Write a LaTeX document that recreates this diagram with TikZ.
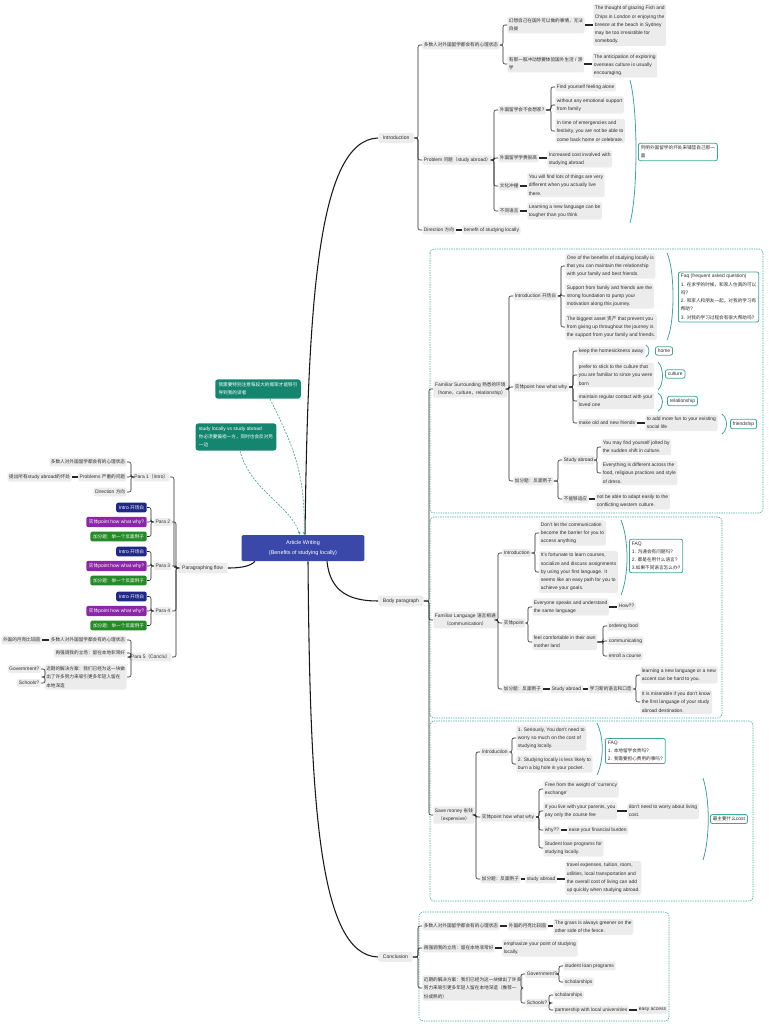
\documentclass[tikz,border=0pt]{standalone}
\usepackage{fontspec}
\setmainfont{Liberation Sans}
\newfontfamily\zhfont{Noto Sans CJK SC}[Scale=0.94]
% switch to the CJK family for ideographs and full-width punctuation
\XeTeXinterchartokenstate=1
\newXeTeXintercharclass\zhclass
\count255="3000
\loop \XeTeXcharclass\count255=\zhclass \ifnum\count255<"303F \advance\count255 by 1 \repeat
\count255="4E00
\loop \XeTeXcharclass\count255=\zhclass \ifnum\count255<"9FFF \advance\count255 by 1 \repeat
\count255="FF00
\loop \XeTeXcharclass\count255=\zhclass \ifnum\count255<"FFEF \advance\count255 by 1 \repeat
\XeTeXinterchartoks 0 \zhclass = {\zhfont}
\XeTeXinterchartoks 4095 \zhclass = {\zhfont}
\XeTeXinterchartoks \zhclass 0 = {\normalfont}
\XeTeXinterchartoks \zhclass 4095 = {\normalfont}
\usetikzlibrary{arrows.meta,calc}
\definecolor{nodegray}{RGB}{236,236,236}
\definecolor{txtgray}{RGB}{45,45,45}
\definecolor{tealline}{RGB}{62,168,152}
\definecolor{tealfill}{RGB}{20,134,112}
\definecolor{rootblue}{RGB}{58,72,170}
\definecolor{navyfill}{RGB}{32,40,135}
\definecolor{purplefill}{RGB}{140,38,168}
\definecolor{greenfill}{RGB}{38,138,40}
\tikzset{
  topic/.style    = {fill=nodegray,rounded corners=1.2pt,inner xsep=1.2pt,inner ysep=1.6pt,
                     align=left,font=\fontsize{3.7}{6.2}\selectfont,text=txtgray},
  branch/.style   = {topic,inner xsep=3.5pt,inner ysep=2.2pt,font=\fontsize{3.8}{6.2}\selectfont},
  tagbox/.style   = {draw=tealline,line width=0.6pt,fill=white,rounded corners=1.5pt,
                     inner sep=1.8pt,align=left,font=\fontsize{3.7}{6.2}\selectfont,text=txtgray},
  notebox/.style  = {fill=tealfill,rounded corners=2pt,inner sep=2.5pt,align=left,
                     text=white,font=\fontsize{3.7}{6.2}\selectfont},
  rootbox/.style  = {fill=rootblue,rounded corners=1pt,text=white,align=center,
                     minimum width=92pt,minimum height=19.5pt,font=\fontsize{4.1}{7}\selectfont},
  stepbox/.style  = {rounded corners=1.5pt,inner xsep=2pt,inner ysep=2pt,text=white,
                     font=\fontsize{3.7}{6.2}\selectfont},
  link/.style     = {draw=black!85,line width=0.45pt,rounded corners=1.5pt},
  solo/.style     = {draw=black!85,line width=0.9pt},
  mainlink/.style = {draw=black!90,line width=0.8pt},
  brace/.style    = {draw=tealline,line width=0.6pt},
  section/.style  = {draw=tealline,dash pattern=on 1pt off 0.8pt,line width=0.5pt,
                     rounded corners=3pt},
  notelink/.style = {draw=tealline,dash pattern=on 1.5pt off 1pt,line width=0.5pt,
                     -{Stealth[length=2.5pt,width=2pt]}},
}
\begin{document}
\begin{tikzpicture}[x=0.75pt,y=-0.75pt]
  \useasboundingbox (0,0) rectangle (768,1024);

  % dashed frames round the body sections and the conclusion
  \draw[section] (430,249) rectangle (763,513);
  \draw[section] (430,517) rectangle (722,718);
  \draw[section] (430,721) rectangle (753,901);
  \draw[section] (419,912) rectangle (669,1021);

  \node[rootbox] (root) at (303,548) {Article Writing\\(Benefits of studying locally)};
  \node[branch,anchor=west] (intro) at (378,138) {Introduction};
  \node[branch,anchor=west] (body)  at (378,601) {Body paragraph};
  \node[branch,anchor=west] (concl) at (378,957) {Conclusion};
  \node[branch,anchor=east] (flow)  at (228,568) {Paragraphing flow};

  \draw[mainlink] ($(root.north)+(2,0)$) .. controls (308,300) and (318,140) .. (intro.west);
  \draw[mainlink] ($(root.south)+(5,0)$) .. controls (310,800) and (318,955) .. (concl.west);
  \draw[mainlink] ($(root.south)+(24,0)$) .. controls (330,592) and (350,601) .. (body.west);
  \draw[mainlink] ($(root.south)+(-48,0)$) .. controls (250,567) and (238,568) .. (flow.east);

  % notes on the left
  \node[notebox] (note1) at (258,389) {我需要特别注意每段大的框架才能够引\\导到我的读者};
  \node[notebox] (note2) at (236,437) {study locally vs study abroad\\你必须要偏袒一方，同时也会反对另\\一边};
  \draw[notelink] ($(note1.south)+(12,0)$) .. controls (290,440) and (306,470) .. ($(root.north)+(1,0)$);
  \draw[notelink] ($(note2.south)+(4,0)$) .. controls (250,490) and (290,505) .. ($(root.north)+(-3,0)$);

  % Introduction
  \node[topic,anchor=west] (im)   at (422,45)  {多数人对外国留学都会有的心理状态};
  \node[topic,anchor=west] (im1)  at (507,25)  {幻想自己在国外可以做的事情，无法\\自拔};
  \node[topic,anchor=west] (im1a) at (593,25)  {The thought of grazing Fish and\\Chips in London or enjoying the\\breeze at the beach in Sydney\\may be too irresistible for\\somebody.};
  \node[topic,anchor=west] (im2)  at (507,64)  {有那一股冲动想要体验国外生活 / 游\\学};
  \node[topic,anchor=west] (im2a) at (592,65)  {The anticipation of exploring\\overseas culture is usually\\encouraging.};
  \node[topic,anchor=west] (ip)   at (422,160) {Problem 问题（study abroad）};
  \node[topic,anchor=west] (ip1)  at (498,110) {外国留学会不会想家?};
  \node[topic,anchor=west] (ip1a) at (555,87)  {Find yourself feeling alone};
  \node[topic,anchor=west] (ip1b) at (555,105) {without any emotional support\\from family};
  \node[topic,anchor=west] (ip1c) at (555,131) {In time of emergencies and\\festivity, you are not be able to\\come back home or celebrate.};
  \node[topic,anchor=west] (ip2)  at (498,158) {外国留学学费很高};
  \node[topic,anchor=west] (ip2a) at (547,159) {Increased cost involved with\\studying abroad};
  \node[topic,anchor=west] (ip3)  at (498,186) {文化冲撞};
  \node[topic,anchor=west] (ip3a) at (527,185) {You will find lots of things are very\\different when you actually live\\there.};
  \node[topic,anchor=west] (ip4)  at (498,211) {不同语言};
  \node[topic,anchor=west] (ip4a) at (527,211) {Learning a new language can be\\tougher than you think};
  \node[topic,anchor=west] (id)   at (422,230) {Direction 方向};
  \node[topic,anchor=west] (ida)  at (462,230) {benefit of studying locally};
  \draw[brace] (630,80) .. controls (638,110) and (638,193) .. (630,223);
  \node[tagbox,anchor=west] (ipnote) at (638,152) {列明外国留学的坏处来铺垫自己那一\\面};

  \foreach \c in {im,ip,id} \draw[link] (intro.east) -- ([xshift=-3pt]intro.east -| \c.west) |- (\c.west);
  \foreach \c in {im1,im2} \draw[link] (im.east) -- ([xshift=-3pt]im.east -| \c.west) |- (\c.west);
  \foreach \c in {ip1,ip2,ip3,ip4} \draw[link] (ip.east) -- ([xshift=-3pt]ip.east -| \c.west) |- (\c.west);
  \foreach \c in {ip1a,ip1b,ip1c} \draw[link] (ip1.east) -- ([xshift=-3pt]ip1.east -| \c.west) |- (\c.west);
  \foreach \a/\b in {im1/im1a,im2/im2a,ip2/ip2a,ip3/ip3a,ip4/ip4a,id/ida}
    \draw[solo] (\a.east) -- (\a.east -| \b.west);

  % Body paragraph: familiar surrounding
  \node[topic,anchor=west,align=center] (s1) at (433,389) {Familiar Surrounding 熟悉的环境\\（home，culture，relationship）};
  \node[topic,anchor=west] (s1i)   at (513,296) {Introduction 开场白};
  \node[topic,anchor=west] (s1i1)  at (565,266) {One of the benefits of studying locally is\\that you can maintain the relationship\\with your family and best friends.};
  \node[topic,anchor=west] (s1i2)  at (565,296) {Support from family and friends are the\\strong foundation to pump your\\motivation along this journey.};
  \node[topic,anchor=west] (s1i3)  at (565,327) {The biggest asset 资产 that prevent you\\from giving up throughout the journey is\\the support from your family and friends.};
  \draw[brace] (667,253) .. controls (675,270) and (675,323) .. (667,340);
  \node[tagbox,anchor=west] (faq1) at (678,297) {Faq (frequent asked question)\\1. 在求学的时候，和家人住真的可以\\吗?\\2. 和家人和朋友一起，对我的学习有\\帮助?\\3. 对我的学习过程会有很大帮助吗?};
  \node[topic,anchor=west] (s1p)   at (513,387) {实体point how what why};
  \node[topic,anchor=west] (s1p1)  at (577,351) {keep the homesickness away};
  \node[topic,anchor=west] (s1p2)  at (577,375) {prefer to stick to the culture that\\you are familiar to since you were\\born};
  \node[topic,anchor=west] (s1p3)  at (577,401) {maintain regular contact with your\\loved one};
  \node[topic,anchor=west] (s1p4)  at (577,423) {make old and new friends};
  \node[topic,anchor=west] (s1p4a) at (645,423) {to add more fun to your existing\\social life};
  \draw[brace] (646,345) .. controls (650,348) and (650,354) .. (646,357);
  \node[tagbox,anchor=west] (home) at (655,351) {home};
  \draw[brace] (658,362) .. controls (664,368) and (664,384) .. (658,390);
  \node[tagbox,anchor=west] (cult) at (665,374) {culture};
  \draw[brace] (658,393) .. controls (664,397) and (664,407) .. (658,411);
  \node[tagbox,anchor=west] (rel) at (667,401) {relationship};
  \draw[brace] (722,414) .. controls (728,419) and (728,429) .. (722,434);
  \node[tagbox,anchor=west] (friend) at (730,424) {friendship};
  \node[topic,anchor=west] (s1b)   at (513,481) {加分题：反面例子};
  \node[topic,anchor=west] (s1b1)  at (562,460) {Study abroad};
  \node[topic,anchor=west] (s1b1a) at (601,447) {You may find yourself jolted by\\the sudden shift in culture.};
  \node[topic,anchor=west] (s1b1b) at (601,473) {Everything is different across the\\food, religious practices and style\\of dress.};
  \node[topic,anchor=west] (s1b2)  at (562,499) {不能够适应};
  \node[topic,anchor=west] (s1b2a) at (595,501) {not be able to adapt easily to the\\conflicting western culture.};

  % Body paragraph: familiar language
  \node[topic,anchor=west,align=center] (s2) at (433,620) {Familiar Language 语言相通\\（communication）};
  \node[topic,anchor=west] (s2i)   at (502,553) {Introduction};
  \node[topic,anchor=west] (s2i1)  at (539,533) {Don't let the communication\\become the barrier for you to\\access anything};
  \node[topic,anchor=west] (s2i2)  at (539,572) {It's fortunate to learn courses,\\socialize and discuss assignments\\by using your first language. It\\seems like an easy path for you to\\achieve your goals.};
  \draw[brace] (621,520) .. controls (629,540) and (629,575) .. (621,595);
  \node[tagbox,anchor=west] (faq2) at (629,556) {FAQ\\1. 沟通会有问题吗?\\2. 都是在用什么语言?\\3.如果不同语言怎么办?};
  \node[topic,anchor=west] (s2p)   at (502,623) {实体point};
  \node[topic,anchor=west] (s2p1)  at (532,607) {Everyone speaks and understand\\the same language};
  \node[topic,anchor=west] (s2p1a) at (617,606) {How??};
  \node[topic,anchor=west] (s2p2)  at (532,642) {feel comfortable in their own\\mother land};
  \node[topic,anchor=west] (s2p2a) at (607,626) {ordering food};
  \node[topic,anchor=west] (s2p2b) at (607,641) {communicating};
  \node[topic,anchor=west] (s2p2c) at (607,656) {enroll a course};
  \node[topic,anchor=west] (s2b)   at (502,689) {加分题：反面例子};
  \node[topic,anchor=west] (s2b1)  at (550,689) {Study abroad};
  \node[topic,anchor=west] (s2b2)  at (588,689) {学习新的语言和口音};
  \node[topic,anchor=west] (s2b2a) at (640,675) {learning a new language or a new\\accent can be hard to you.};
  \node[topic,anchor=west] (s2b2b) at (640,702) {It is miserable if you don't know\\the first language of your study\\abroad destination.};

  % Body paragraph: save money
  \node[topic,anchor=west,align=center] (s3) at (433,815) {Save money 省钱\\（expensive）};
  \node[topic,anchor=west] (s3i)   at (480,752) {Introduction};
  \node[topic,anchor=west] (s3i1)  at (516,738) {1. Seriously, You don't need to\\worry so much on the cost of\\studying locally.};
  \node[topic,anchor=west] (s3i2)  at (516,764) {2. Studying locally is less likely to\\burn a big hole in your pocket.};
  \draw[brace] (597,723) .. controls (604,738) and (604,760) .. (597,775);
  \node[tagbox,anchor=west] (faq3) at (605,751) {FAQ\\1. 本地留学会贵吗?\\2. 我需要担心费用的事吗?};
  \node[topic,anchor=west] (s3p)   at (480,817) {实体point how what why};
  \node[topic,anchor=west] (s3p1)  at (543,789) {Free from the weight of `currency\\exchange'};
  \node[topic,anchor=west] (s3p2)  at (543,811) {If you live with your parents, you\\pay only the course fee};
  \node[topic,anchor=west] (s3p2a) at (627,811) {don't need to worry about living\\cost.};
  \node[topic,anchor=west] (s3p3)  at (543,830) {why??};
  \node[topic,anchor=west] (s3p3a) at (567,830) {ease your financial burden};
  \node[topic,anchor=west] (s3p4)  at (543,848) {Student loan programs for\\studying locally.};
  \draw[brace] (703,778) .. controls (710,800) and (710,838) .. (703,860);
  \node[tagbox,anchor=west] (cost) at (710,819) {最主要什么cost};
  \node[topic,anchor=west] (s3b)   at (480,879) {加分题：反面例子};
  \node[topic,anchor=west] (s3b1)  at (525,879) {study abroad};
  \node[topic,anchor=west] (s3b1a) at (565,878) {travel expenses, tuition, room,\\utilities, local transportation and\\the overall cost of living can add\\up quickly when studying abroad.};

  \foreach \c in {s1,s2,s3} \draw[link] (body.east) -- ([xshift=-3pt]body.east -| \c.west) |- (\c.west);
  \foreach \c in {s1i,s1p,s1b} \draw[link] (s1.east) -- ([xshift=-3pt]s1.east -| \c.west) |- (\c.west);
  \foreach \c in {s1i1,s1i2,s1i3} \draw[link] (s1i.east) -- ([xshift=-3pt]s1i.east -| \c.west) |- (\c.west);
  \foreach \c in {s1p1,s1p2,s1p3,s1p4} \draw[link] (s1p.east) -- ([xshift=-3pt]s1p.east -| \c.west) |- (\c.west);
  \foreach \c in {s1b1,s1b2} \draw[link] (s1b.east) -- ([xshift=-3pt]s1b.east -| \c.west) |- (\c.west);
  \foreach \c in {s1b1a,s1b1b} \draw[link] (s1b1.east) -- ([xshift=-3pt]s1b1.east -| \c.west) |- (\c.west);
  \foreach \c in {s2i,s2p,s2b} \draw[link] (s2.east) -- ([xshift=-3pt]s2.east -| \c.west) |- (\c.west);
  \foreach \c in {s2i1,s2i2} \draw[link] (s2i.east) -- ([xshift=-3pt]s2i.east -| \c.west) |- (\c.west);
  \foreach \c in {s2p1,s2p2} \draw[link] (s2p.east) -- ([xshift=-3pt]s2p.east -| \c.west) |- (\c.west);
  \foreach \c in {s2p2a,s2p2b,s2p2c} \draw[link] (s2p2.east) -- ([xshift=-3pt]s2p2.east -| \c.west) |- (\c.west);
  \foreach \c in {s2b2a,s2b2b} \draw[link] (s2b2.east) -- ([xshift=-3pt]s2b2.east -| \c.west) |- (\c.west);
  \foreach \c in {s3i,s3p,s3b} \draw[link] (s3.east) -- ([xshift=-3pt]s3.east -| \c.west) |- (\c.west);
  \foreach \c in {s3i1,s3i2} \draw[link] (s3i.east) -- ([xshift=-3pt]s3i.east -| \c.west) |- (\c.west);
  \foreach \c in {s3p1,s3p2,s3p3,s3p4} \draw[link] (s3p.east) -- ([xshift=-3pt]s3p.east -| \c.west) |- (\c.west);
  \foreach \a/\b in {s1p4/s1p4a,s1b2/s1b2a,s2p1/s2p1a,s2b/s2b1,s2b1/s2b2,s3p2/s3p2a,s3p3/s3p3a,s3b/s3b1,s3b1/s3b1a}
    \draw[solo] (\a.east) -- (\a.east -| \b.west);

  % Conclusion
  \node[topic,anchor=west] (c1)   at (422,926)  {多数人对外国留学都会有的心理状态};
  \node[topic,anchor=west] (c1a)  at (507,926)  {外国的月亮比较圆};
  \node[topic,anchor=west] (c1b)  at (553,927)  {The grass is always greener on the\\other side of the fence.};
  \node[topic,anchor=west] (c2)   at (422,948)  {再强调我的立场：留在本地非常好};
  \node[topic,anchor=west] (c2a)  at (502,948)  {emphasize your point of studying\\locally.};
  \node[topic,anchor=west] (c3)   at (422,988)  {近期的解决方案：我们已经为这一块做出了许多\\努力来吸引更多年轻人留在本地深造（推荐一\\份成熟的）};
  \node[topic,anchor=west] (c3a)  at (525,974)  {Government?};
  \node[topic,anchor=west] (c3a1) at (563,966)  {student loan programs};
  \node[topic,anchor=west] (c3a2) at (563,982)  {scholarships};
  \node[topic,anchor=west] (c3b)  at (525,1003) {Schools?};
  \node[topic,anchor=west] (c3b1) at (553,995)  {scholarships};
  \node[topic,anchor=west] (c3b2) at (553,1010) {partnership with local universities};
  \node[topic,anchor=west] (c3b2a) at (637,1010) {easy access};

  \foreach \c in {c1,c2,c3} \draw[link] (concl.east) -- ([xshift=-3pt]concl.east -| \c.west) |- (\c.west);
  \foreach \c in {c3a,c3b} \draw[link] (c3.east) -- ([xshift=-3pt]c3.east -| \c.west) |- (\c.west);
  \foreach \c in {c3a1,c3a2} \draw[link] (c3a.east) -- ([xshift=-3pt]c3a.east -| \c.west) |- (\c.west);
  \foreach \c in {c3b1,c3b2} \draw[link] (c3b.east) -- ([xshift=-3pt]c3b.east -| \c.west) |- (\c.west);
  \foreach \a/\b in {c1/c1a,c1a/c1b,c2/c2a,c3b2/c3b2a}
    \draw[solo] (\a.east) -- (\a.east -| \b.west);

  % Paragraphing flow
  \node[topic,anchor=east] (p1) at (170,477) {Para 1（Intro）};
  \node[topic,anchor=east] (l1a) at (127,462) {多数人对外国留学都会有的心理状态};
  \node[topic,anchor=east] (l1b) at (127,477) {Problems 严重的问题};
  \node[topic,anchor=east] (l1b0) at (72,477) {提出所有study abroad的坏处};
  \node[topic,anchor=east] (l1c) at (127,492) {Direction 方向};
  \foreach \n/\y in {2/522,3/566,4/611} {
    \node[topic,anchor=east] (p\n) at (172,\y) {Para \n};
    \node[stepbox,fill=navyfill,anchor=east] (p\n a) at (147,\y-14.5) {Intro 开场白};
    \node[stepbox,fill=purplefill,anchor=east] (p\n b) at (147,\y) {实体point how what why?};
    \node[stepbox,fill=greenfill,anchor=east] (p\n c) at (147,\y+14.5) {加分题：举一个反面例子};
    \foreach \c in {a,b,c} \draw[link] (p\n.west) -- ([xshift=3pt]p\n.west -| p\n\c.east) |- (p\n\c.east);
  }
  \node[topic,anchor=east] (p5) at (172,657) {Para 5（Conclu）};
  \node[topic,anchor=east] (l5a) at (127,640) {多数人对外国留学都会有的心理状态};
  \node[topic,anchor=east] (l5a0) at (42,640) {外国的月亮比较圆};
  \node[topic,anchor=east] (l5b) at (127,653) {再强调我的立场：留在本地非常好};
  \node[topic,anchor=east] (l5c) at (127,677) {近期的解决方案：我们已经为这一块做\\出了许多努力来吸引更多年轻人留在\\本地深造};
  \node[topic,anchor=east] (gov) at (41,669) {Government?};
  \node[topic,anchor=east] (sch) at (41,683) {Schools?};

  \foreach \c in {p1,p2,p3,p4,p5} \draw[link] (flow.west) -- ([xshift=3pt]flow.west -| \c.east) |- (\c.east);
  \foreach \c in {l1a,l1b,l1c} \draw[link] (p1.west) -- ([xshift=3pt]p1.west -| \c.east) |- (\c.east);
  \foreach \c in {l5a,l5b,l5c} \draw[link] (p5.west) -- ([xshift=3pt]p5.west -| \c.east) |- (\c.east);
  \foreach \c in {gov,sch} \draw[link] (l5c.west) -- ([xshift=3pt]l5c.west -| \c.east) |- (\c.east);
  \foreach \a/\b in {l1b/l1b0,l5a/l5a0}
    \draw[solo] (\a.west) -- (\a.west -| \b.east);
\end{tikzpicture}
\end{document}
